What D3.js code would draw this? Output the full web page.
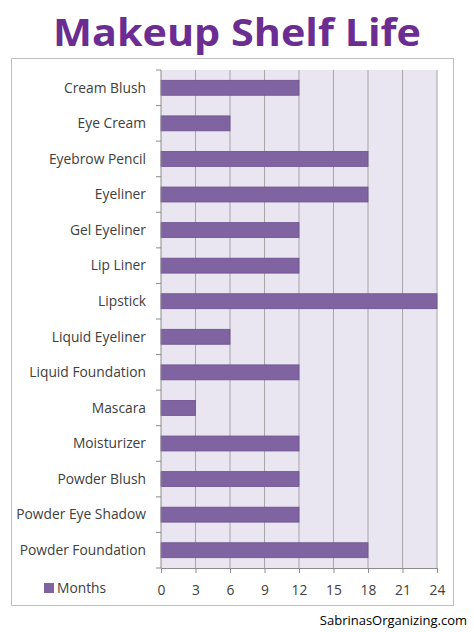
<!DOCTYPE html>
<html><head><meta charset="utf-8">
<script src="https://cdn.jsdelivr.net/npm/d3@7"></script>
<style>body{margin:0;background:#fff}</style>
</head><body><div id="chart"></div>
<script>
// data
var categories = ["Cream Blush","Eye Cream","Eyebrow Pencil","Eyeliner","Gel Eyeliner","Lip Liner ","Lipstick","Liquid Eyeliner","Liquid Foundation","Mascara","Moisturizer","Powder Blush","Powder Eye Shadow","Powder Foundation"];
var months = [12,6,18,18,12,12,24,6,12,3,12,12,12,18];
var xTicks = [0,3,6,9,12,15,18,21,24];

var W = 474, H = 632;
var plot = { left: 161, right: 437, top: 70, bottom: 568 };

var svg = d3.select("#chart").append("svg")
    .attr("width", W).attr("height", H)
    .style("font-family", "'Open Sans', sans-serif");

// title
svg.append("text").attr("x", 237).attr("y", 46)
    .attr("text-anchor", "middle")
    .style("font-size", "38px").style("font-weight", "700")
    .style("fill", "#6b2d91")
    .attr("textLength", 368).attr("lengthAdjust", "spacingAndGlyphs")
    .text("Makeup Shelf Life");

// outer frame
svg.append("rect").attr("x", 11.5).attr("y", 58.5).attr("width", 442).attr("height", 547)
    .attr("fill", "#fff").attr("stroke", "#bfbfbf");

var x = d3.scaleLinear().domain([0, 24]).range([plot.left, plot.right]);
var y = d3.scaleBand().domain(categories).range([plot.top, plot.bottom]).paddingInner(0.58).paddingOuter(0.29);

svg.append("rect").attr("x", plot.left).attr("y", plot.top)
    .attr("width", plot.right - plot.left).attr("height", plot.bottom - plot.top)
    .attr("fill", "#e9e5f1");

// gridlines
svg.append("g").selectAll("line").data(xTicks.slice(1)).enter().append("line")
    .attr("x1", function (d) { return x(d); }).attr("x2", function (d) { return x(d); })
    .attr("y1", plot.top).attr("y2", plot.bottom)
    .attr("stroke", "#a6a6a6");

// bars
svg.append("g").selectAll("rect").data(categories).enter().append("rect")
    .attr("x", x(0))
    .attr("y", function (d) { return y(d); })
    .attr("width", function (d, i) { return x(months[i]) - x(0); })
    .attr("height", y.bandwidth())
    .attr("fill", "#8064a2").attr("stroke", "#6c5190").attr("stroke-width", 0.8);

// left axis
var step = (plot.bottom - plot.top) / categories.length;
var yAxis = svg.append("g").attr("transform", "translate(" + plot.left + ",0)");
yAxis.append("line").attr("y1", plot.top).attr("y2", plot.bottom).attr("stroke", "#8c8c8c");
yAxis.selectAll(".tk").data(d3.range(categories.length + 1)).enter().append("line")
    .attr("x1", -5).attr("x2", 0)
    .attr("y1", function (i) { return plot.top + i * step; })
    .attr("y2", function (i) { return plot.top + i * step; })
    .attr("stroke", "#8c8c8c");
yAxis.selectAll("text").data(categories).enter().append("text")
    .attr("x", -15).attr("y", function (d) { return y(d) + y.bandwidth() / 2; })
    .attr("dy", "0.35em").attr("text-anchor", "end")
    .style("font-size", "13.8px").style("fill", "#404040")
    .text(function (d) { return d; });

// bottom axis
var xAxis = svg.append("g").attr("transform", "translate(0," + plot.bottom + ")")
    .call(d3.axisBottom(x).tickValues(xTicks).tickSize(5).tickPadding(12));
xAxis.select(".domain").attr("stroke", "#8c8c8c");
xAxis.selectAll(".tick line").attr("stroke", "#8c8c8c");
xAxis.selectAll("text").style("font-size", "13.8px").style("fill", "#404040")
    .style("font-family", "'Open Sans', sans-serif");

// legend
svg.append("rect").attr("x", 44).attr("y", 583).attr("width", 10).attr("height", 10).attr("fill", "#8064a2");
svg.append("text").attr("x", 57).attr("y", 593).style("font-size", "13.8px").style("fill", "#404040").text("Months");

// footer
svg.append("text").attr("x", 467).attr("y", 625).attr("text-anchor", "end")
    .style("font-size", "13px").style("fill", "#000").text("SabrinasOrganizing.com");
</script></body></html>
